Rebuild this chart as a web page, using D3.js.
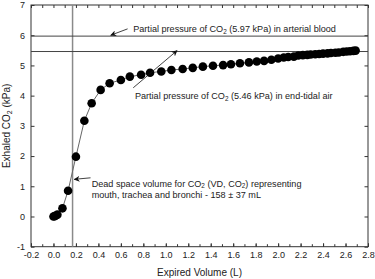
<!DOCTYPE html>
<html>
<head>
<meta charset="utf-8">
<script src="https://cdn.jsdelivr.net/npm/d3@7"></script>
<style>
  html, body { margin: 0; padding: 0; background: #fff; }
  svg { display: block; font-family: "Liberation Sans", Arial, sans-serif; }
</style>
</head>
<body>
<svg id="chart" width="375" height="279"></svg>
<script>
// ---- data ----
const volume = [0.00, 0.01, 0.02, 0.035, 0.08, 0.13, 0.20, 0.275, 0.34, 0.42, 0.50, 0.60, 0.68, 0.78,
  0.86, 0.96, 1.05, 1.15, 1.24, 1.33, 1.42, 1.51, 1.58, 1.66, 1.74, 1.81, 1.875, 1.94, 2.00,
  2.05, 2.09, 2.14, 2.18, 2.22, 2.26, 2.29, 2.33, 2.365, 2.40, 2.44, 2.47, 2.51, 2.54, 2.58,
  2.61, 2.64, 2.67, 2.69];
const co2 = [0.00, 0.01, 0.03, 0.06, 0.27, 0.85, 1.98, 3.17, 3.75, 4.19, 4.41, 4.52, 4.63, 4.69,
  4.76, 4.80, 4.85, 4.88, 4.92, 4.96, 4.99, 5.01, 5.04, 5.07, 5.10, 5.13, 5.15, 5.19, 5.23,
  5.26, 5.28, 5.29, 5.33, 5.34, 5.35, 5.36, 5.37, 5.38, 5.39, 5.40, 5.41, 5.42, 5.43, 5.45,
  5.46, 5.47, 5.48, 5.49];
const xTicks = [-0.2, 0.0, 0.2, 0.4, 0.6, 0.8, 1.0, 1.2, 1.4, 1.6, 1.8, 2.0, 2.2, 2.4, 2.6, 2.8];
const yTicks = [-1, 0, 1, 2, 3, 4, 5, 6, 7];
const arterialCO2 = 5.97;
const endTidalCO2 = 5.46;
const deadSpaceVolume = 0.17;
const xLabel = "Expired Volume (L)";

// ---- layout ----
const W = 375, H = 279;
const margin = {left: 31, top: 5, right: 7, bottom: 32.3};
const svg = d3.select("#chart");

const x = d3.scaleLinear().domain([-0.2, 2.8]).range([margin.left, W - margin.right]);
const y = d3.scaleLinear().domain([-1, 7]).range([H - margin.bottom, margin.top]);

const axisColor = "#333";
const minorTicks = d3.range(-2, 29).map(d => d / 10);

// frame
svg.append("rect")
  .attr("x", x(-0.2)).attr("y", y(7))
  .attr("width", x(2.8) - x(-0.2)).attr("height", y(-1) - y(7))
  .attr("fill", "none").attr("stroke", axisColor).attr("stroke-width", 1);

function styleAxis(g) {
  g.select(".domain").remove();
  g.selectAll(".tick line").attr("stroke", axisColor);
  g.selectAll(".tick text").attr("fill", "#222").style("font-size", "9px")
    .style("font-family", "'Liberation Sans', Arial, sans-serif");
}

// bottom axis (labels + inward ticks)
svg.append("g").attr("transform", `translate(0,${y(-1)})`)
  .call(d3.axisBottom(x).tickValues(xTicks).tickFormat(d => d.toFixed(1)).tickSizeInner(-3.5).tickSizeOuter(0).tickPadding(5))
  .call(styleAxis);
svg.append("g").attr("transform", `translate(0,${y(-1)})`)
  .call(d3.axisBottom(x).tickValues(minorTicks).tickFormat("").tickSizeInner(-2.5).tickSizeOuter(0))
  .call(styleAxis);
// top axis (inward ticks)
svg.append("g").attr("transform", `translate(0,${y(7)})`)
  .call(d3.axisTop(x).tickValues(minorTicks).tickFormat("").tickSizeInner(-3).tickSizeOuter(0))
  .call(styleAxis);
// left axis
svg.append("g").attr("transform", `translate(${x(-0.2)},0)`)
  .call(d3.axisLeft(y).tickValues(yTicks).tickFormat(d => String(d)).tickSizeInner(-3.5).tickSizeOuter(0).tickPadding(6))
  .call(styleAxis);
// right axis
svg.append("g").attr("transform", `translate(${x(2.8)},0)`)
  .call(d3.axisRight(y).tickValues(yTicks).tickFormat("").tickSizeInner(-3.5).tickSizeOuter(0))
  .call(styleAxis);

// reference lines
svg.append("line")
  .attr("x1", x(deadSpaceVolume)).attr("x2", x(deadSpaceVolume))
  .attr("y1", y(7)).attr("y2", y(-1))
  .attr("stroke", "#8a8a8a").attr("stroke-width", 1.5);
[arterialCO2, endTidalCO2].forEach(v => {
  svg.append("line")
    .attr("x1", x(-0.2)).attr("x2", x(2.8))
    .attr("y1", y(v)).attr("y2", y(v))
    .attr("stroke", "#444").attr("stroke-width", 1);
});

// data line + points
const pts = volume.map((v, i) => ({v, c: co2[i]}));
svg.append("path").datum(pts)
  .attr("d", d3.line().x(d => x(d.v)).y(d => y(d.c)))
  .attr("fill", "none").attr("stroke", "#666").attr("stroke-width", 1);
svg.append("g").selectAll("circle").data(pts).join("circle")
  .attr("cx", d => x(d.v)).attr("cy", d => y(d.c)).attr("r", 4.3)
  .attr("fill", "#000");

// arrow marker
svg.append("defs").append("marker")
  .attr("id", "arr").attr("viewBox", "0 0 10 10").attr("refX", 9).attr("refY", 5)
  .attr("markerWidth", 6).attr("markerHeight", 6).attr("markerUnits", "userSpaceOnUse")
  .attr("orient", "auto")
  .append("path").attr("d", "M0,0 L10,5 L0,10 L3,5 Z").attr("fill", "#111");

function arrow(x1, y1, x2, y2) {
  svg.append("line")
    .attr("x1", x(x1)).attr("y1", y(y1)).attr("x2", x(x2)).attr("y2", y(y2))
    .attr("stroke", "#111").attr("stroke-width", 0.8).attr("marker-end", "url(#arr)");
}
arrow(0.66, 6.21, 0.51, arterialCO2 + 0.03);
arrow(0.71, 4.26, 1.10, endTidalCO2 + 0.03);
arrow(0.33, 1.28, deadSpaceVolume + 0.015, 1.23);

// annotation text with subscripts
const annFont = 9.1;
const subShift = 1.6;
function annot(xv, yv, parts) {
  const t = svg.append("text").attr("x", x(xv)).attr("y", y(yv))
    .attr("fill", "#222").style("font-size", annFont + "px");
  let shifted = false;
  parts.forEach(p => {
    if (typeof p === "string") {
      const s = t.append("tspan").text(p);
      if (shifted) { s.attr("dy", -subShift); shifted = false; }
    } else {
      t.append("tspan").attr("dy", subShift).style("font-size", (annFont * 0.7) + "px").text(p.sub);
      shifted = true;
    }
  });
  return t;
}
annot(0.71, 6.10, ["Partial pressure of CO", {sub: "2"}, " (5.97 kPa) in arterial blood"]);
annot(0.725, 3.88, ["Partial pressure of CO", {sub: "2"}, " (5.46 kPa) in end-tidal air"]);
annot(0.34, 0.99, ["Dead space volume for CO", {sub: "2"}, " (VD, CO", {sub: "2"}, ") representing"]);
annot(0.34, 0.61, ["mouth, trachea and bronchi - 158 ± 37 mL"]);

// axis titles
svg.append("text")
  .attr("x", (x(-0.2) + x(2.8)) / 2).attr("y", 276)
  .attr("text-anchor", "middle").attr("fill", "#222").style("font-size", "10px")
  .text(xLabel);
const yt = svg.append("text")
  .attr("transform", `translate(9.5,${(y(-1) + y(7)) / 2}) rotate(-90)`)
  .attr("text-anchor", "middle").attr("fill", "#222").style("font-size", "10px");
yt.append("tspan").text("Exhaled CO");
yt.append("tspan").attr("dy", 2).style("font-size", "7px").text("2");
yt.append("tspan").attr("dy", -2).text(" (kPa)");
</script>
</body>
</html>
